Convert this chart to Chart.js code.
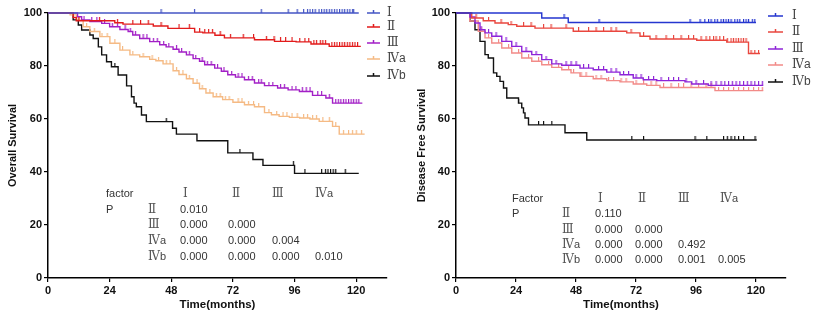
<!DOCTYPE html>
<html>
<head>
<meta charset="utf-8">
<script src="https://cdn.jsdelivr.net/npm/chart.js@4.4.1/dist/chart.umd.min.js"></script>
<style>
  html, body { margin: 0; padding: 0; background: #fff; }
  #wrap { position: relative; width: 818px; height: 318px; overflow: hidden; }
  .panel { position: absolute; top: 0; width: 409px; height: 318px; }
  .cell { position: absolute; font: 11px "Liberation Sans", Arial, sans-serif; color: #333; line-height: 14px; white-space: nowrap; }
  .num { font: 12px "DejaVu Serif", "Noto Sans CJK SC", serif; color: #555; }
  .suf { font: 11px "Liberation Sans", Arial, sans-serif; color: #444; }
</style>
</head>
<body>
<div id="wrap">
  <div class="panel" id="leftPanel" style="left:0"><canvas id="osChart" width="409" height="318"></canvas></div>
  <div class="panel" id="rightPanel" style="left:409px"><canvas id="dfsChart" width="409" height="318"></canvas></div>
</div>
<script>
// stage names, axis ticks
const stages = ['Ⅰ', 'Ⅱ', 'Ⅲ', 'Ⅳa', 'Ⅳb'];
const timeTicks = [0, 24, 48, 72, 96, 120];
const survivalTicks = [0, 20, 40, 60, 80, 100];

// overall survival (%), step times in months
const osTimeI = [0, 121];
const osSurvI = [100, 100];
const osCensorI = [44, 57, 83, 93.5, 97, 99.5, 101, 102, 103, 104, 105.5, 106.5, 107.5, 108.5, 109.5, 110.5, 111.5, 112.5, 113.5, 114.5, 115.5, 116.5, 117.5, 118.5, 119];

const osTimeII = [0, 9.8, 11, 26, 29.2, 41, 46.7, 57.1, 60.3, 65, 68.7, 80.4, 88.2, 96.6, 102.4, 109.5, 121.8];
const osSurvII = [100, 98.3, 97.1, 96.3, 95.8, 95.1, 94.2, 92.8, 92.5, 91.6, 90.6, 89.9, 89.3, 89.1, 88.3, 87.4, 87.4];
const osCensorII = [12, 20, 27, 33, 36, 39, 44, 51, 55, 59, 61, 62.5, 64, 67, 71, 76, 80, 85, 88, 90.5, 92.5, 95, 98, 100, 101.5, 103.5, 104.5, 106, 107, 108, 110.5, 111.5, 112.5, 113.5, 114.5, 115.5, 116.5, 117.5, 118.5, 119.5, 120.5];

const osTimeIII = [0, 11.5, 13.1, 16.3, 20.9, 24, 28, 31.2, 33, 35.7, 39.6, 43.5, 46, 48.7, 51, 53.9, 56.5, 59, 61, 64.9, 67.5, 70, 73, 76.5, 80.4, 84.3, 89.4, 93.5, 97.9, 103, 108.2, 110.8, 122.4];
const osSurvIII = [100, 98.6, 97.4, 96.8, 96.1, 94.8, 93.8, 93, 91.7, 90.4, 89.2, 88, 87.2, 86.3, 85.3, 84.2, 82.8, 81.8, 80.5, 79.2, 78, 76.7, 75.8, 74.8, 73.6, 72.6, 71.7, 71, 70.4, 68.9, 67.9, 66, 66];
const osCensorIII = [14, 17, 19, 22, 25, 27, 30, 32, 34, 37, 38.5, 41, 42.5, 45, 47, 50, 52, 55, 57.5, 60, 62, 63.5, 66, 68.5, 71.5, 74, 75.5, 78, 79.5, 82, 83, 86, 87.5, 90.5, 92, 95, 96.5, 99, 100.5, 102, 105, 106.5, 109.5, 112, 113, 114, 115, 116, 117, 118, 119, 120, 121];

const osTimeIVa = [0, 8.6, 11.2, 13.7, 16.3, 20.2, 24.1, 28, 31.9, 35.7, 39.6, 42, 44.8, 48.7, 51, 53.9, 56.5, 59, 61.5, 64.3, 68, 72, 76.5, 80.4, 84.3, 87, 90, 94, 98, 102, 105.6, 110.8, 113.4, 123.3];
const osSurvIVa = [100, 99.3, 97.4, 94.8, 93, 91.1, 88.6, 86, 84.2, 83.5, 82.5, 82, 80.8, 78.2, 76.8, 75.2, 73.5, 71.4, 69.8, 68.4, 67.3, 66.3, 65.4, 64.6, 62.4, 61.6, 61, 60.6, 60.4, 60, 59.1, 57.2, 54.3, 54.3];
const osCensorIVa = [12, 15, 18, 21, 23, 26, 29, 33, 37, 40.5, 43, 46, 47.5, 50, 52.5, 55, 58, 60, 63, 65.5, 67, 69, 70.5, 74, 75.5, 78, 80, 82, 86, 89, 91.5, 93, 95, 97, 99.5, 101, 103, 104.5, 107, 109.5, 112, 115, 117, 118.5, 120, 122];

const osTimeIVb = [0, 9.8, 11.8, 13.1, 16.3, 17.6, 19.6, 20.9, 22.8, 24.7, 27.3, 30.6, 32.5, 33.5, 34.4, 36.4, 38.3, 48.5, 50, 58, 70, 79.8, 83.7, 96, 121];
const osSurvIVb = [100, 97.4, 95.5, 93.6, 91.7, 90.4, 87.2, 84.2, 81.6, 79.7, 76.6, 72.5, 68.4, 66, 64.6, 61.5, 59, 56.5, 54.3, 51.8, 47.2, 44.7, 42.5, 39.5, 39.5];
const osCensorIVb = [26, 46, 74.7, 95.5, 100, 106.5, 108, 109, 110, 111, 112, 115.7];

// disease free survival (%)
const dfsTimeI = [0, 34.3, 44.9, 120];
const dfsSurvI = [100, 98.1, 96.4, 96.4];
const dfsCensorI = [43.2, 57.2, 93.6, 97.6, 99.5, 101, 102, 103.5, 104.5, 106, 107, 108, 109, 110, 111.5, 112.5, 113.5, 115, 116, 117, 118.5, 119.5];

const dfsTimeII = [0, 6.3, 10.9, 15.6, 20.9, 24.3, 31.6, 46.9, 68.3, 73.6, 77.6, 96.3, 108.3, 117, 121.6];
const dfsSurvII = [100, 98.1, 97.1, 96.2, 95.6, 95, 94.3, 93.1, 92.5, 91.2, 90.2, 89.7, 89, 84.7, 84.7];
const dfsCensorII = [8, 13, 18, 22, 27, 30, 35, 38, 44, 49, 53, 56, 59, 62, 64, 70, 75, 80, 84, 87, 90, 93, 95, 98, 100, 101.5, 103, 104, 105.5, 107, 108.5, 110, 111, 112, 113, 114, 115, 116, 118, 119.5, 121];

const dfsTimeIII = [0, 5.6, 7.6, 9.6, 11.6, 14.3, 18.3, 22.3, 26.3, 30.3, 34.3, 38.3, 42.3, 49.6, 54.9, 60.3, 65.6, 70.9, 74.9, 80.3, 91.6, 94.3, 100.9, 122.9];
const dfsSurvIII = [100, 98.5, 96.2, 93.7, 92.5, 91.2, 89.3, 87.4, 85.5, 84.3, 82.4, 80.8, 80.3, 79.2, 78.6, 77.7, 76.7, 75.5, 74.8, 74.5, 74, 73.2, 72.7, 72.7];
const dfsCensorIII = [10, 13, 16, 20, 24, 28, 32, 36, 40, 44, 46, 48, 51, 53, 57, 59, 62, 64, 67, 69, 72, 74, 77, 79, 82, 85, 87, 89, 92, 96, 99, 102, 104, 106, 107.5, 109, 110.5, 112, 113.5, 115, 116.5, 118, 119.5, 121, 122.5];

const dfsTimeIVa = [0, 5.5, 8.9, 11.6, 14.3, 18.3, 22.3, 26.3, 30.3, 34.3, 38.3, 42.3, 46, 49.6, 54.9, 60.3, 65.6, 70.9, 76.3, 81.6, 103.6, 122.9];
const dfsSurvIVa = [100, 97, 93.1, 90.6, 88.7, 86.8, 84.9, 83, 81.8, 80.5, 79.5, 78.6, 77.4, 76.1, 75.2, 74.5, 74, 73.2, 72.7, 71.9, 70.7, 70.7];
const dfsCensorIVa = [10, 13, 17, 21, 25, 29, 33, 37, 41, 45, 47, 50, 52, 56, 58, 61, 63, 66, 68, 72, 75, 78, 80, 83, 86, 89, 91, 94, 97, 100, 102, 105, 107, 109, 111, 113, 115, 117, 119, 121, 122.5];

const dfsTimeIVb = [0, 5.6, 7.6, 9.6, 11.6, 12.9, 15, 16.3, 17.6, 19, 20.3, 25, 26.3, 27, 27.6, 29, 43.6, 52.3, 120.3];
const dfsSurvIVb = [100, 97, 93.7, 89.3, 84.3, 83, 77.4, 76.1, 74.2, 71.7, 67.9, 66, 64.2, 62.3, 60.4, 57.8, 54.8, 52.1, 52.1];
const dfsCensorIVb = [25, 33, 35, 38.3, 70.3, 75, 95.6, 100.3, 107, 108.5, 110, 111.5, 113, 115, 119.6];

// pairwise log-rank P values (rows: Ⅱ..Ⅳb, cols: Ⅰ..Ⅳa)
const osPValues = [['0.010'], ['0.000', '0.000'], ['0.000', '0.000', '0.004'], ['0.000', '0.000', '0.000', '0.010']];
const dfsPValues = [['0.110'], ['0.000', '0.000'], ['0.000', '0.000', '0.492'], ['0.000', '0.000', '0.001', '0.005']];

Chart.defaults.font.family = '"Liberation Sans", Arial, sans-serif';

const numeralFont = '12px "DejaVu Serif", "Noto Sans CJK SC", serif';
const suffixFont = '12px "Liberation Sans", Arial, sans-serif';

function survAt(times, surv, t) {
  let v = surv[0];
  for (let i = 0; i < times.length; i++) {
    if (times[i] <= t) v = surv[i];
  }
  return v;
}

// small vertical tick drawn above the curve for censored cases
function censorMark(color) {
  const c = document.createElement('canvas');
  c.width = 3;
  c.height = 8;
  const g = c.getContext('2d');
  g.fillStyle = color;
  g.fillRect(1, 0, 1.2, 4);
  return c;
}

function kmDatasets(series) {
  const sets = [];
  series.forEach((s) => {
    sets.push({
      data: s.time.map((t, i) => ({ x: t, y: s.surv[i] })),
      borderColor: s.color,
      borderWidth: 1.4,
      stepped: true,
      pointRadius: 0,
      fill: false,
      clip: false,
    });
    sets.push({
      data: s.censor.map((t) => ({ x: t, y: survAt(s.time, s.surv, t) })),
      showLine: false,
      pointStyle: censorMark(s.color),
      pointRadius: 4,
      clip: false,
    });
  });
  return sets;
}

const stageLegend = {
  id: 'stageLegend',
  afterDraw(chart, args, opts) {
    const { ctx, chartArea } = chart;
    ctx.save();
    opts.colors.forEach((c, i) => {
      const y = opts.rows[i];
      const x0 = chartArea.right + opts.lineX;
      ctx.strokeStyle = c;
      ctx.lineWidth = 1.5;
      ctx.beginPath();
      ctx.moveTo(x0, y);
      ctx.lineTo(x0 + opts.lineW, y);
      ctx.moveTo(x0 + opts.lineW / 2, y);
      ctx.lineTo(x0 + opts.lineW / 2, y - 3);
      ctx.stroke();
      ctx.fillStyle = '#444';
      ctx.textBaseline = 'middle';
      const tx = chartArea.right + opts.textX;
      ctx.font = numeralFont;
      ctx.fillText(stages[i][0], tx, y);
      const w = ctx.measureText(stages[i][0]).width;
      ctx.font = suffixFont;
      ctx.fillText(stages[i].slice(1), tx + w, y);
    });
    ctx.restore();
  },
};

function makeChart(id, series, yTitle, yWidth, padRight, legendOpts) {
  const tickFont = { size: 11, weight: 'bold' };
  return new Chart(document.getElementById(id), {
    type: 'line',
    data: { datasets: kmDatasets(series) },
    plugins: [stageLegend],
    options: {
      responsive: false,
      animation: false,
      events: [],
      layout: { padding: { top: 13, right: padRight, bottom: 0, left: 0 } },
      plugins: {
        legend: { display: false },
        tooltip: { enabled: false },
        stageLegend: legendOpts,
      },
      scales: {
        x: {
          type: 'linear',
          min: 0,
          max: 132,
          afterBuildTicks: (s) => { s.ticks = timeTicks.map((v) => ({ value: v })); },
          afterFit: (s) => { s.height = 40; },
          ticks: { font: tickFont, color: '#111', padding: 2, maxRotation: 0 },
          grid: { drawOnChartArea: false, drawTicks: true, tickLength: 4, color: '#000', lineWidth: 1.2 },
          border: { color: '#000', width: 1.5 },
          title: { display: true, text: 'Time(months)', color: '#111', font: { size: 11.5, weight: 'bold' }, padding: { top: 0, bottom: 6 } },
        },
        y: {
          type: 'linear',
          min: 0,
          max: 100,
          afterBuildTicks: (s) => { s.ticks = survivalTicks.map((v) => ({ value: v })); },
          afterFit: (s) => { s.width = yWidth; },
          ticks: { font: tickFont, color: '#111', padding: 2 },
          grid: { drawOnChartArea: false, drawTicks: true, tickLength: 4, color: '#000', lineWidth: 1.2 },
          border: { color: '#000', width: 1.5 },
          title: { display: true, text: yTitle, color: '#111', font: { size: 11, weight: 'bold' }, padding: { top: 6, bottom: 0 } },
        },
      },
    },
  });
}

function buildTable(panel, word, pValues, L) {
  const add = (text, x, y) => {
    const d = document.createElement('div');
    d.className = 'cell';
    d.textContent = text;
    d.style.left = x + 'px';
    d.style.top = (y - 7) + 'px';
    panel.appendChild(d);
  };
  // stage label: serif numeral followed by sans letter
  const addStage = (text, x, y) => {
    const d = document.createElement('div');
    d.className = 'cell';
    d.style.left = x + 'px';
    d.style.top = (y - 7) + 'px';
    const n = document.createElement('span');
    n.className = 'num';
    n.textContent = text[0];
    d.appendChild(n);
    if (text.length > 1) {
      const s = document.createElement('span');
      s.className = 'suf';
      s.textContent = text.slice(1);
      d.appendChild(s);
    }
    panel.appendChild(d);
  };
  add(word, L.factorX, L.headerY);
  stages.slice(0, 4).forEach((s, j) => addStage(s, L.headerX[j], L.headerY));
  add('P', L.factorX, L.rowY[0]);
  pValues.forEach((row, i) => {
    addStage(stages[i + 1], L.rowLabelX, L.rowY[i]);
    row.forEach((v, j) => add(v, L.colX[j], L.rowY[i]));
  });
}

const osColors = ['#4455C4', '#E21B1B', '#A21FC6', '#F5BA84', '#111111'];
const dfsColors = ['#2536CF', '#E9473F', '#8E24D8', '#F28B88', '#111111'];

makeChart('osChart', [
  { time: osTimeI, surv: osSurvI, censor: osCensorI, color: osColors[0] },
  { time: osTimeII, surv: osSurvII, censor: osCensorII, color: osColors[1] },
  { time: osTimeIII, surv: osSurvIII, censor: osCensorIII, color: osColors[2] },
  { time: osTimeIVa, surv: osSurvIVa, censor: osCensorIVa, color: osColors[3] },
  { time: osTimeIVb, surv: osSurvIVb, censor: osCensorIVb, color: osColors[4] },
], 'Overall Survival', 48, 22, { colors: osColors, rows: [13, 27, 43, 59, 76], lineX: -20, lineW: 13, textX: 0 });

makeChart('dfsChart', [
  { time: dfsTimeI, surv: dfsSurvI, censor: dfsCensorI, color: dfsColors[0] },
  { time: dfsTimeII, surv: dfsSurvII, censor: dfsCensorII, color: dfsColors[1] },
  { time: dfsTimeIII, surv: dfsSurvIII, censor: dfsCensorIII, color: dfsColors[2] },
  { time: dfsTimeIVa, surv: dfsSurvIVa, censor: dfsCensorIVa, color: dfsColors[3] },
  { time: dfsTimeIVb, surv: dfsSurvIVb, censor: dfsCensorIVb, color: dfsColors[4] },
], 'Disease Free Survival', 47, 32, { colors: dfsColors, rows: [16, 32, 49, 65, 82], lineX: -18, lineW: 15, textX: 6 });

buildTable(document.getElementById('leftPanel'), 'factor', osPValues, {
  factorX: 106, headerY: 193, rowY: [209, 224, 240, 256], rowLabelX: 148,
  colX: [180, 228, 272, 315], headerX: [183, 232, 272, 315],
});
buildTable(document.getElementById('rightPanel'), 'Factor', dfsPValues, {
  factorX: 103, headerY: 198, rowY: [213, 229, 244, 259], rowLabelX: 153,
  colX: [186, 226, 269, 309], headerX: [189, 229, 269, 311],
});
</script>
</body>
</html>
